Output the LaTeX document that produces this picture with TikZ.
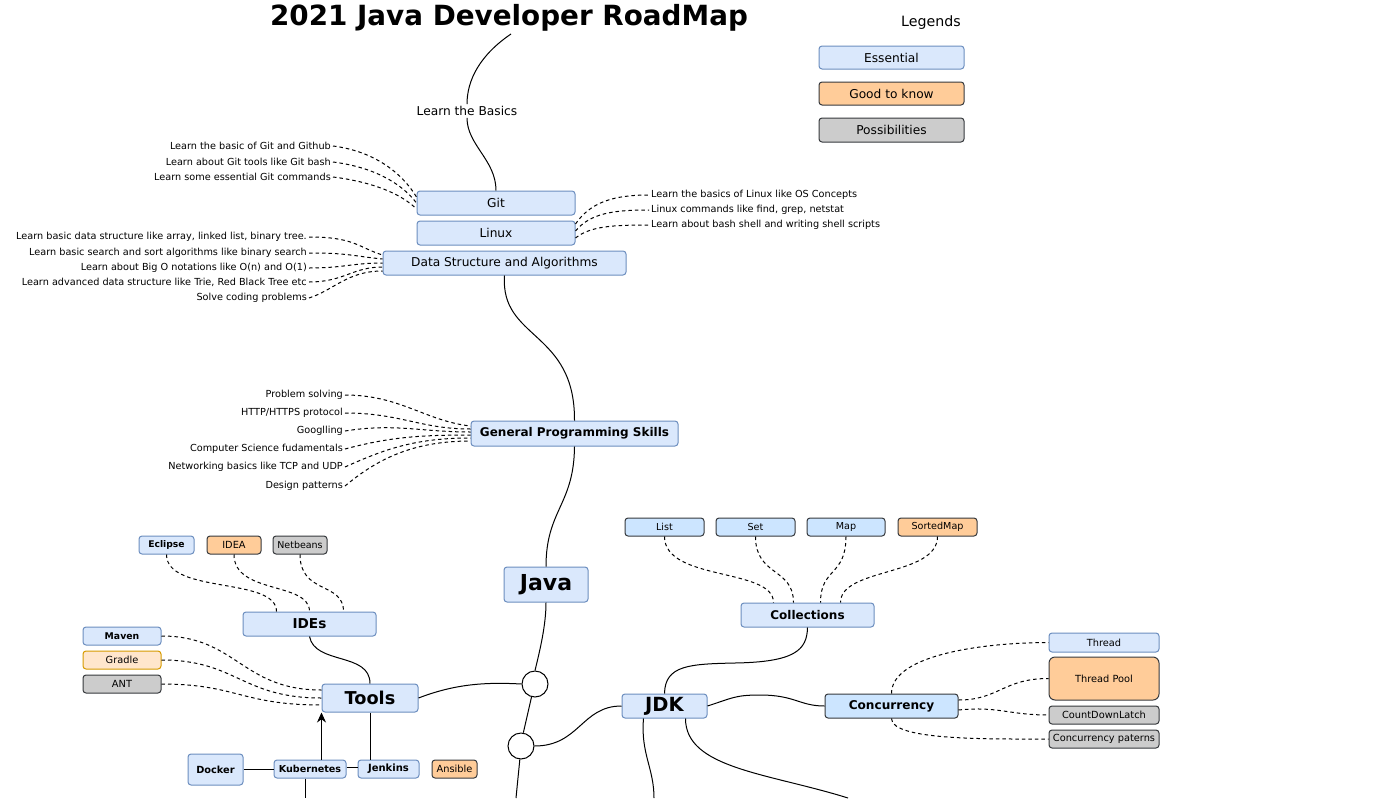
\documentclass[tikz,border=0pt]{standalone}
\usepackage{fontspec}
\setmainfont{DejaVu Sans}
\usetikzlibrary{calc,arrows.meta}
\definecolor{bfill}{HTML}{DAE8FC}
\definecolor{bline}{HTML}{6C8EBF}
\definecolor{ofill}{HTML}{FFCC99}
\definecolor{dkline}{HTML}{36393D}
\definecolor{gfill}{HTML}{CCCCCC}
\definecolor{lofill}{HTML}{FFE6CC}
\definecolor{loline}{HTML}{D79B00}
\definecolor{cfill}{HTML}{CCE5FF}
\begin{document}
\begin{tikzpicture}[x=1pt,y=-1pt,
 box/.style={draw, rounded corners=3pt, line width=1pt, inner sep=0pt, align=center},
 ess/.style={box, fill=bfill, draw=bline},
 good/.style={box, fill=ofill, draw=dkline},
 poss/.style={box, fill=gfill, draw=dkline},
 lgood/.style={box, fill=lofill, draw=loline},
 ess2/.style={box, fill=cfill, draw=dkline},
 sz/.style 2 args={minimum width=#1pt, minimum height=#2pt},
 fs/.style={font=\fontsize{#1}{#1}\selectfont},
 fb/.style={font=\fontsize{#1}{#1}\selectfont\bfseries},
 lab/.style={fs=9.7, inner sep=2pt},
 dsh/.style={dash pattern=on 3.5pt off 3pt, line width=1pt},
 conn/.style={line width=1pt},
 circ/.style={circle, draw, line width=1pt, fill=white, minimum size=26pt, inner sep=0pt}
]
\fill[white] (0,0) rectangle (1400,798);
\useasboundingbox (0,0) rectangle (1400,798);

% title and legend
\node[fb=27.8] (title) at (509,18) {2021 Java Developer RoadMap};
\node[fs=14.2] (leg) at (931,22.5) {Legends};
\node[ess, sz={145}{23}, fs=12.2] (lE) at (891.5,57.5) {Essential};
\node[good, sz={145}{23}, fs=12.2] (lG) at (891.5,93.5) {Good to know};
\node[poss, sz={145}{24}, fs=12.2] (lP) at (891.5,130) {Possibilities};

% basics
\node[fs=12.2, inner sep=2pt] (basics) at (467,111) {Learn the Basics};
\node[ess, sz={158}{24}, fs=12.2] (Git) at (496,203) {Git};
\node[ess, sz={158}{24}, fs=12.2] (Linux) at (496,233) {Linux};
\node[ess, sz={243}{24}, fs=12.2] (DSA) at (504.5,263) {Data Structure and Algorithms};
\coordinate (t0) at (511,34);
\draw[conn] (t0) .. controls (480,55) and (467,80) .. (basics.north);
\draw[conn] (basics.south) .. controls (467,145) and (496,160) .. (Git.north);

% git labels
\node[lab, anchor=east] (g1) at (333,146) {Learn the basic of Git and Github};
\node[lab, anchor=east] (g2) at (333,162) {Learn about Git tools like Git bash};
\node[lab, anchor=east] (g3) at (333,177) {Learn some essential Git commands};
\draw[dsh] (g1.east) .. controls +(40,5) and +(-15,-25) .. ($(Git.west)+(0,-6)$);
\draw[dsh] (g2.east) .. controls +(40,5) and +(-15,-20) .. ($(Git.west)+(0,0)$);
\draw[dsh] (g3.east) .. controls +(40,5) and +(-15,-15) .. ($(Git.west)+(0,6)$);

% linux labels
\node[lab, anchor=west] (x1) at (649,195) {Learn the basics of Linux like OS Concepts};
\node[lab, anchor=west] (x2) at (649,210) {Linux commands like find, grep, netstat};
\node[lab, anchor=west] (x3) at (649,225) {Learn about bash shell and writing shell scripts};
\draw[dsh] ($(Linux.east)+(0,-9)$) .. controls +(15,-22) and +(-35,0) .. (x1.west);
\draw[dsh] ($(Linux.east)+(0,-2)$) .. controls +(15,-18) and +(-35,0) .. (x2.west);
\draw[dsh] ($(Linux.east)+(0,5)$) .. controls +(15,-12) and +(-35,0) .. (x3.west);

% dsa labels
\node[lab, anchor=east] (d1) at (309,237) {Learn basic data structure like array, linked list, binary tree.};
\node[lab, anchor=east] (d2) at (309,253) {Learn basic search and sort algorithms like binary search};
\node[lab, anchor=east] (d3) at (309,268) {Learn about Big O notations like O(n) and O(1)};
\node[lab, anchor=east] (d4) at (309,282) {Learn advanced data structure like Trie, Red Black Tree etc};
\node[lab, anchor=east] (d5) at (309,298) {Solve coding problems};
\draw[dsh] (d1.east) .. controls +(45,0) and +(-25,-8) .. ($(DSA.west)+(0,-8)$);
\draw[dsh] (d2.east) .. controls +(40,0) and +(-30,-3) .. ($(DSA.west)+(0,-4)$);
\draw[dsh] (d3.east) .. controls +(35,0) and +(-30,0) .. ($(DSA.west)+(0,0)$);
\draw[dsh] (d4.east) .. controls +(35,0) and +(-30,0) .. ($(DSA.west)+(0,4)$);
\draw[dsh] (d5.east) .. controls +(25,-8) and +(-35,0) .. ($(DSA.west)+(0,8)$);

% general programming skills
\node[ess, sz={207}{25}, fb=12] (GPS) at (574.5,433.5) {General Programming Skills};
\draw[conn] (DSA.south) .. controls (500,340) and (575,330) .. (GPS.north);
\node[lab, anchor=east] (p1) at (345,395) {Problem solving};
\node[lab, anchor=east] (p2) at (345,413) {HTTP/HTTPS protocol};
\node[lab, anchor=east] (p3) at (345,431) {Googlling};
\node[lab, anchor=east] (p4) at (345,449) {Computer Science fudamentals};
\node[lab, anchor=east] (p5) at (345,467) {Networking basics like TCP and UDP};
\node[lab, anchor=east] (p6) at (345,486) {Design patterns};
\draw[dsh] (p1.east) .. controls +(55,0) and +(-45,-5) .. ($(GPS.west)+(0,-7.5)$);
\draw[dsh] (p2.east) .. controls +(55,0) and +(-50,0) .. ($(GPS.west)+(0,-4.5)$);
\draw[dsh] (p3.east) .. controls +(50,-8) and +(-50,0) .. ($(GPS.west)+(0,-1.5)$);
\draw[dsh] (p4.east) .. controls +(45,-12) and +(-50,0) .. ($(GPS.west)+(0,1.5)$);
\draw[dsh] (p5.east) .. controls +(40,-18) and +(-55,0) .. ($(GPS.west)+(0,4.5)$);
\draw[dsh] (p6.east) .. controls +(30,-25) and +(-60,0) .. ($(GPS.west)+(0,7.5)$);

% java spine
\node[ess, sz={84}{35}, fb=22] (Java) at (546,584.5) {Java};
\draw[conn] (GPS.south) .. controls (574,505) and (546,510) .. (Java.north);
\node[circ] (c1) at (535,684) {};
\node[circ] (c2) at (521,746) {};
\draw[conn] (Java.south) .. controls (546,625) and (540,650) .. (c1.north);
\draw[conn] (c1.255) -- (c2.80);
\coordinate (b1) at (516,798);
\draw[conn] (c2.265) -- (b1);

% tools
\node[ess, sz={96}{28}, fb=17.7] (Tools) at (370,698) {Tools};
\node[ess, sz={133}{24}, fb=13.6] (IDEs) at (309.5,624) {IDEs};
\draw[conn] (Tools.east) .. controls (455,684) and (485,682) .. (c1.west);
\draw[conn] (IDEs.south) .. controls (315,665) and (370,652) .. (Tools.north);
\node[ess, sz={55}{18}, fb=9.2] (Ecl) at (166.5,545) {Eclipse};
\node[good, sz={54}{18}, fs=9.8] (Idea) at (234,545) {IDEA};
\node[poss, sz={54}{18}, fs=9.5] (Net) at (300,545) {Netbeans};
\draw[dsh] (Ecl.south) .. controls +(0,40) and +(0,-35) .. ($(IDEs.north)+(-33,0)$);
\draw[dsh] (Idea.south) .. controls +(0,40) and +(0,-30) .. ($(IDEs.north)+(0,0)$);
\draw[dsh] (Net.south) .. controls +(0,40) and +(0,-30) .. ($(IDEs.north)+(34,0)$);
\node[ess, sz={78}{18}, fb=9.3] (Mav) at (122,636) {Maven};
\node[lgood, sz={78}{18}, fs=9.8] (Gra) at (122,660) {Gradle};
\node[poss, sz={78}{18}, fs=9.8] (Ant) at (122,684) {ANT};
\draw[dsh] (Mav.east) .. controls +(75,0) and +(-80,0) .. ($(Tools.west)+(0,-8)$);
\draw[dsh] (Gra.east) .. controls +(75,0) and +(-80,0) .. ($(Tools.west)+(0,0)$);
\draw[dsh] (Ant.east) .. controls +(75,0) and +(-80,0) .. ($(Tools.west)+(0,7)$);
\node[ess, sz={55}{31}, fb=9.8] (Dock) at (215.5,769.5) {Docker};
\node[ess, sz={72}{18}, fb=9.6] (Kub) at (310,769) {Kubernetes};
\node[ess, sz={61}{18}, fb=10] (Jenk) at (388.5,769) {Jenkins};
\node[good, sz={45}{18}, fs=9.8] (Ans) at (454.5,769) {Ansible};
\draw[conn] (Dock.east) -- (Dock.east -| Kub.west);
\draw[conn] ($(Kub.east)+(0,-2)$) -- ($(Jenk.west)+(0,-2)$);
\draw[conn, -{Stealth[length=10pt,width=9pt]}] (Kub.north -| Tools.south west) -- (Tools.south west);
\draw[conn] (Tools.south) -- (Tools.south |- Jenk.north);
\coordinate (kb) at (305,798);
\draw[conn] (kb |- Kub.south) -- (kb);

% JDK
\node[ess, sz={85}{24}, fb=19.5] (JDK) at (664.5,706) {JDK};
\draw[conn] (c2.east) .. controls +(45,0) and +(-40,0) .. (JDK.west);
\node[ess, sz={133}{24}, fb=12] (Coll) at (807.5,615) {Collections};
\draw[conn] (JDK.north) .. controls (665,665) and (690,664) .. (735,663) .. controls (795,662) and (807,650) .. (Coll.south);
\node[ess2, sz={79}{18}, fs=9.6] (List) at (664.5,527) {List};
\node[ess2, sz={79}{18}, fs=9.6] (Set) at (755.5,527) {Set};
\node[ess2, sz={78}{18}, fs=9.6] (Map) at (846,527) {Map};
\node[good, sz={79}{18}, fs=9.6] (SMap) at (937.5,527) {SortedMap};
\draw[dsh] (List.south) .. controls +(0,45) and +(0,-35) .. ($(Coll.north)+(-34,0)$);
\draw[dsh] (Set.south) .. controls +(0,40) and +(0,-35) .. ($(Coll.north)+(-14,0)$);
\draw[dsh] (Map.south) .. controls +(0,40) and +(0,-35) .. ($(Coll.north)+(13,0)$);
\draw[dsh] (SMap.south) .. controls +(0,40) and +(0,-35) .. ($(Coll.north)+(33,0)$);
\node[ess2, sz={133}{24}, fb=12.1] (Conc) at (891.5,706) {Concurrency};
\draw[conn] (JDK.east) .. controls +(25,-8) and +(-25,0) .. (760,695) .. controls +(35,0) and +(-25,0) .. (Conc.west);
\coordinate (b2) at (654,798);
\coordinate (b3) at (848,798);
\draw[conn] ($(JDK.south)+(-21,0)$) .. controls +(-3,35) and +(0,-30) .. (b2);
\draw[conn] ($(JDK.south)+(21,0)$) .. controls +(0,50) and +(-80,-25) .. (b3);

% concurrency children
\node[ess, sz={110}{19}, fs=9.8] (Thr) at (1104,642.5) {Thread};
\node[good, sz={110}{43}, fs=9.8, rounded corners=6pt] (TPool) at (1104,678.5) {Thread Pool};
\node[poss, sz={110}{18}, fs=9.8] (CDL) at (1104,715) {CountDownLatch};
\node[poss, sz={110}{18}, fs=9.8] (CPat) at (1104,739) {Concurrency paterns};
\draw[dsh] (Conc.north) .. controls +(0,-40) and +(-60,0) .. (Thr.west);
\draw[dsh] ($(Conc.east)+(0,-6)$) .. controls +(40,0) and +(-45,0) .. (TPool.west);
\draw[dsh] ($(Conc.east)+(0,4)$) .. controls +(40,-4) and +(-40,0) .. (CDL.west);
\draw[dsh] (Conc.south) .. controls +(0,22) and +(-60,0) .. (CPat.west);
\end{tikzpicture}
\end{document}
